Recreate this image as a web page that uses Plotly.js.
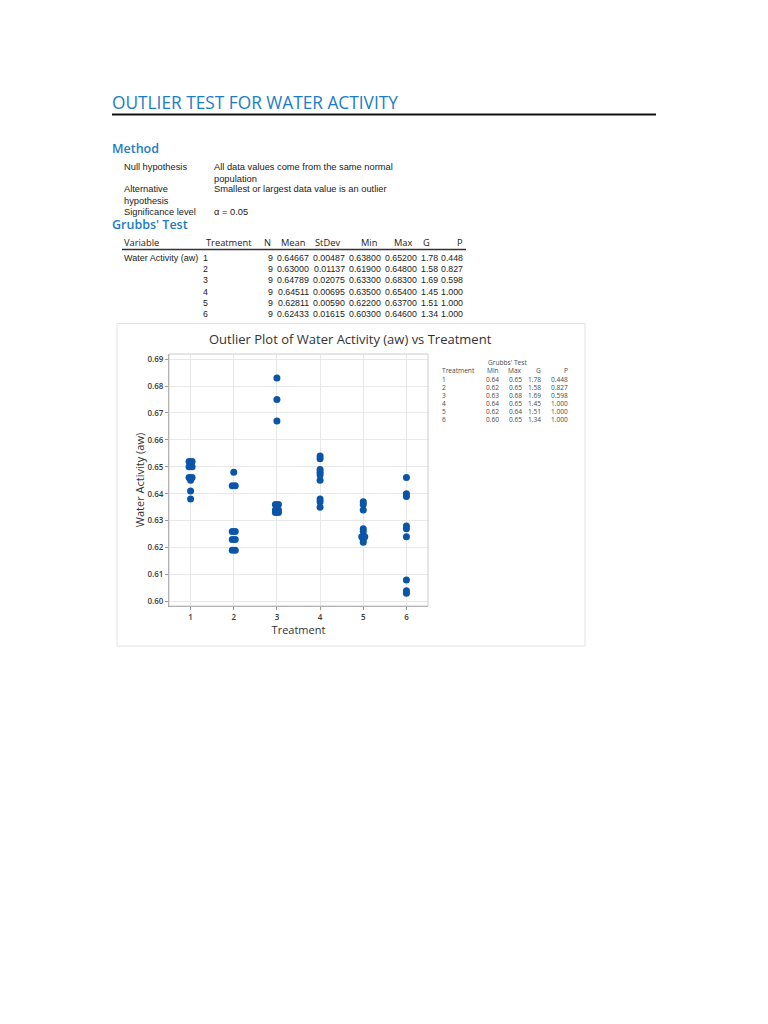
<!DOCTYPE html>
<html>
<head>
<meta charset="utf-8">
<script src="https://cdn.plot.ly/plotly-3.0.1.min.js"></script>
<style>
  html, body { margin: 0; padding: 0; background: #ffffff; }
  #page { width: 768px; height: 1024px; }
</style>
</head>
<body>
<div id="page"></div>
<script>
// Water activity (aw) readings, nine per treatment
const treatments = [1, 2, 3, 4, 5, 6];
const aw1 = [0.652, 0.652, 0.650, 0.650, 0.646, 0.646, 0.645, 0.641, 0.638];
const aw2 = [0.648, 0.643, 0.643, 0.626, 0.626, 0.623, 0.623, 0.619, 0.619];
const aw3 = [0.683, 0.675, 0.667, 0.636, 0.636, 0.634, 0.634, 0.633, 0.633];
const aw4 = [0.654, 0.653, 0.649, 0.648, 0.647, 0.645, 0.638, 0.637, 0.635];
const aw5 = [0.637, 0.636, 0.634, 0.627, 0.626, 0.624, 0.624, 0.623, 0.622];
const aw6 = [0.646, 0.640, 0.639, 0.628, 0.627, 0.624, 0.608, 0.604, 0.603];

// Grubbs' test statistic and p-value per treatment
const grubbsG = [1.78, 1.58, 1.69, 1.45, 1.51, 1.34];
const grubbsP = [0.448, 0.827, 0.598, 1.000, 1.000, 1.000];

// Axis ticks
const yTickVals = [0.60, 0.61, 0.62, 0.63, 0.64, 0.65, 0.66, 0.67, 0.68, 0.69];
const yTickText = ['0.60', '0.61', '0.62', '0.63', '0.64', '0.65', '0.66', '0.67', '0.68', '0.69'];

// Method section text
const methodLabels = ['Null hypothesis', '', 'Alternative', 'hypothesis', 'Significance level'];
const methodValues = ['All data values come from the same normal', 'population',
                      'Smallest or largest data value is an outlier', '', 'α = 0.05'];

const groups = [aw1, aw2, aw3, aw4, aw5, aw6];

// ---- summary statistics ----
function mean(a) { return a.reduce((s, v) => s + v, 0) / a.length; }
function stdev(a) {
  const m = mean(a);
  return Math.sqrt(a.reduce((s, v) => s + (v - m) * (v - m), 0) / (a.length - 1));
}
const stats = groups.map(g => ({
  n: g.length, mean: mean(g), sd: stdev(g), min: Math.min(...g), max: Math.max(...g)
}));

// ---- scatter points; tied values sit side by side ----
const TIE_STEP = 0.07;
const px = [], py = [];
groups.forEach((g, i) => {
  const counts = {}, seen = {};
  g.forEach(v => { counts[v] = (counts[v] || 0) + 1; });
  g.forEach(v => {
    const k = seen[v] || 0; seen[v] = k + 1;
    px.push(treatments[i] + (k - (counts[v] - 1) / 2) * TIE_STEP);
    py.push(v);
  });
});

// ---- page geometry helpers (pixel -> paper) ----
const W = 768, H = 1024;
const X = v => v / W;
const Y = v => 1 - v / H;

const BLUE = '#1c7cc4';
const ARIAL = 'Liberation Sans, Arial, sans-serif';
const SEGOE = 'Open Sans, Noto Sans, sans-serif';

const annotations = [];
function txt(x, y, text, size, opt) {
  opt = opt || {};
  annotations.push({
    xref: 'paper', yref: 'paper', x: X(x), y: Y(y), text: text,
    showarrow: false, xanchor: opt.anchor || 'left', yanchor: 'middle',
    borderpad: 0, borderwidth: 0,
    font: { family: opt.family || ARIAL, size: size, color: opt.color || '#222222',
            weight: opt.weight || 400 }
  });
}

// Page heading
txt(112, 102, 'OUTLIER TEST FOR WATER ACTIVITY', 17.3, { family: SEGOE, color: BLUE });
txt(112, 148, 'Method', 12.5, { family: SEGOE, color: BLUE, weight: 600 });

const methodY = [167, 178.5, 189, 200.5, 212];
methodLabels.forEach((t, i) => { if (t) txt(124, methodY[i], t, 9.3); });
methodValues.forEach((t, i) => { if (t) txt(214, methodY[i], t, 9.3); });

txt(112, 224, "Grubbs' Test", 12.5, { family: SEGOE, color: BLUE, weight: 600 });

// Grubbs' table
const headY = 242.5;
txt(124, headY, 'Variable', 9.3, { family: SEGOE });
txt(206, headY, 'Treatment', 9.3, { family: SEGOE });
const headCols = [['N', 267], ['Mean', 292.5], ['StDev', 327], ['Min', 369], ['Max', 403.5], ['G', 426], ['P', 460]];
headCols.forEach(c => txt(c[1], headY, c[0], 9.3, { family: SEGOE, anchor: 'center' }));

const rowY = [258, 269.2, 280.4, 291.6, 302.8, 314];
const colRight = [272.5, 308.5, 344.5, 381, 417, 437.7, 463];
txt(124, rowY[0], 'Water Activity (aw)', 9);
treatments.forEach((t, i) => {
  const s = stats[i];
  txt(203, rowY[i], String(t), 8.8);
  const cells = [String(s.n), s.mean.toFixed(5), s.sd.toFixed(5), s.min.toFixed(5),
                 s.max.toFixed(5), grubbsG[i].toFixed(2), grubbsP[i].toFixed(3)];
  cells.forEach((c, j) => txt(colRight[j], rowY[i], c, 8.8, { anchor: 'right' }));
});

// Chart title
txt(350, 339, 'Outlier Plot of Water Activity (aw) vs Treatment', 13,
    { family: SEGOE, color: '#333333', anchor: 'center' });

// Grubbs' summary inside the chart
const gFont = 6.6, gCol = '#4a4a4a';
txt(507, 362, "Grubbs' Test", gFont, { family: SEGOE, color: gCol, anchor: 'center' });
const gHeadY = 370.5;
txt(442, gHeadY, 'Treatment', gFont, { family: SEGOE, color: gCol });
const gRight = [498.5, 521.5, 540.5, 568];
[['Min', 0], ['Max', 1], ['G', 2], ['P', 3]].forEach(h =>
  txt(gRight[h[1]], gHeadY, h[0], gFont, { family: SEGOE, color: gCol, anchor: 'right' }));
const gRowY = [379, 387, 395, 403, 411, 419];
treatments.forEach((t, i) => {
  const s = stats[i];
  txt(442, gRowY[i], String(t), gFont, { family: SEGOE, color: gCol });
  [s.min.toFixed(2), s.max.toFixed(2), grubbsG[i].toFixed(2), grubbsP[i].toFixed(3)]
    .forEach((c, j) => txt(gRight[j], gRowY[i], c, gFont, { family: SEGOE, color: gCol, anchor: 'right' }));
});

const shapes = [
  // heading rule
  { type: 'line', xref: 'paper', yref: 'paper', x0: X(112), x1: X(656), y0: Y(114.5), y1: Y(114.5),
    line: { color: '#111111', width: 2 } },
  // table header rule
  { type: 'line', xref: 'paper', yref: 'paper', x0: X(122), x1: X(466), y0: Y(249.5), y1: Y(249.5),
    line: { color: '#333333', width: 1.3 } },
  // chart frame
  { type: 'rect', xref: 'paper', yref: 'paper', x0: X(117), x1: X(585), y0: Y(646), y1: Y(323.5),
    line: { color: '#e2e2e2', width: 1 }, layer: 'below' },
  // plot-area border
  { type: 'rect', xref: 'paper', yref: 'paper', x0: X(169), x1: X(428), y0: Y(606), y1: Y(354),
    line: { color: '#cccccc', width: 1 }, layer: 'above' }
];

const trace = {
  type: 'scatter', mode: 'markers', x: px, y: py,
  marker: { color: '#0a55a8', size: 7, line: { width: 0 } },
  hoverinfo: 'x+y', showlegend: false
};

const layout = {
  width: W, height: H,
  margin: { l: 0, r: 0, t: 0, b: 0 },
  paper_bgcolor: '#ffffff', plot_bgcolor: '#ffffff',
  showlegend: false,
  xaxis: {
    domain: [X(169), X(428)], range: [0.5, 6.5],
    tickvals: treatments, ticktext: treatments.map(String),
    showgrid: true, gridcolor: '#e8e8e8', gridwidth: 1, zeroline: false,
    showline: true, linecolor: '#9a9a9a', linewidth: 1,
    ticks: 'outside', ticklen: 3, tickcolor: '#9a9a9a',
    tickfont: { family: SEGOE, size: 8, color: '#3a3a3a', weight: 600 },
    title: { text: 'Treatment', standoff: 3,
             font: { family: SEGOE, size: 11, color: '#333333' } },
    fixedrange: true
  },
  yaxis: {
    domain: [Y(606), Y(354)], range: [0.5983, 0.6919],
    tickvals: yTickVals, ticktext: yTickText,
    showgrid: true, gridcolor: '#e8e8e8', gridwidth: 1, zeroline: false,
    showline: true, linecolor: '#9a9a9a', linewidth: 1,
    ticks: 'outside', ticklen: 3, tickcolor: '#9a9a9a',
    tickfont: { family: SEGOE, size: 8, color: '#3a3a3a', weight: 600 },
    title: { text: 'Water Activity (aw)', standoff: 0,
             font: { family: SEGOE, size: 11, color: '#333333' } },
    fixedrange: true
  },
  annotations: annotations,
  shapes: shapes
};

Plotly.newPlot('page', [trace], layout, { displayModeBar: false, staticPlot: true });
</script>
</body>
</html>
